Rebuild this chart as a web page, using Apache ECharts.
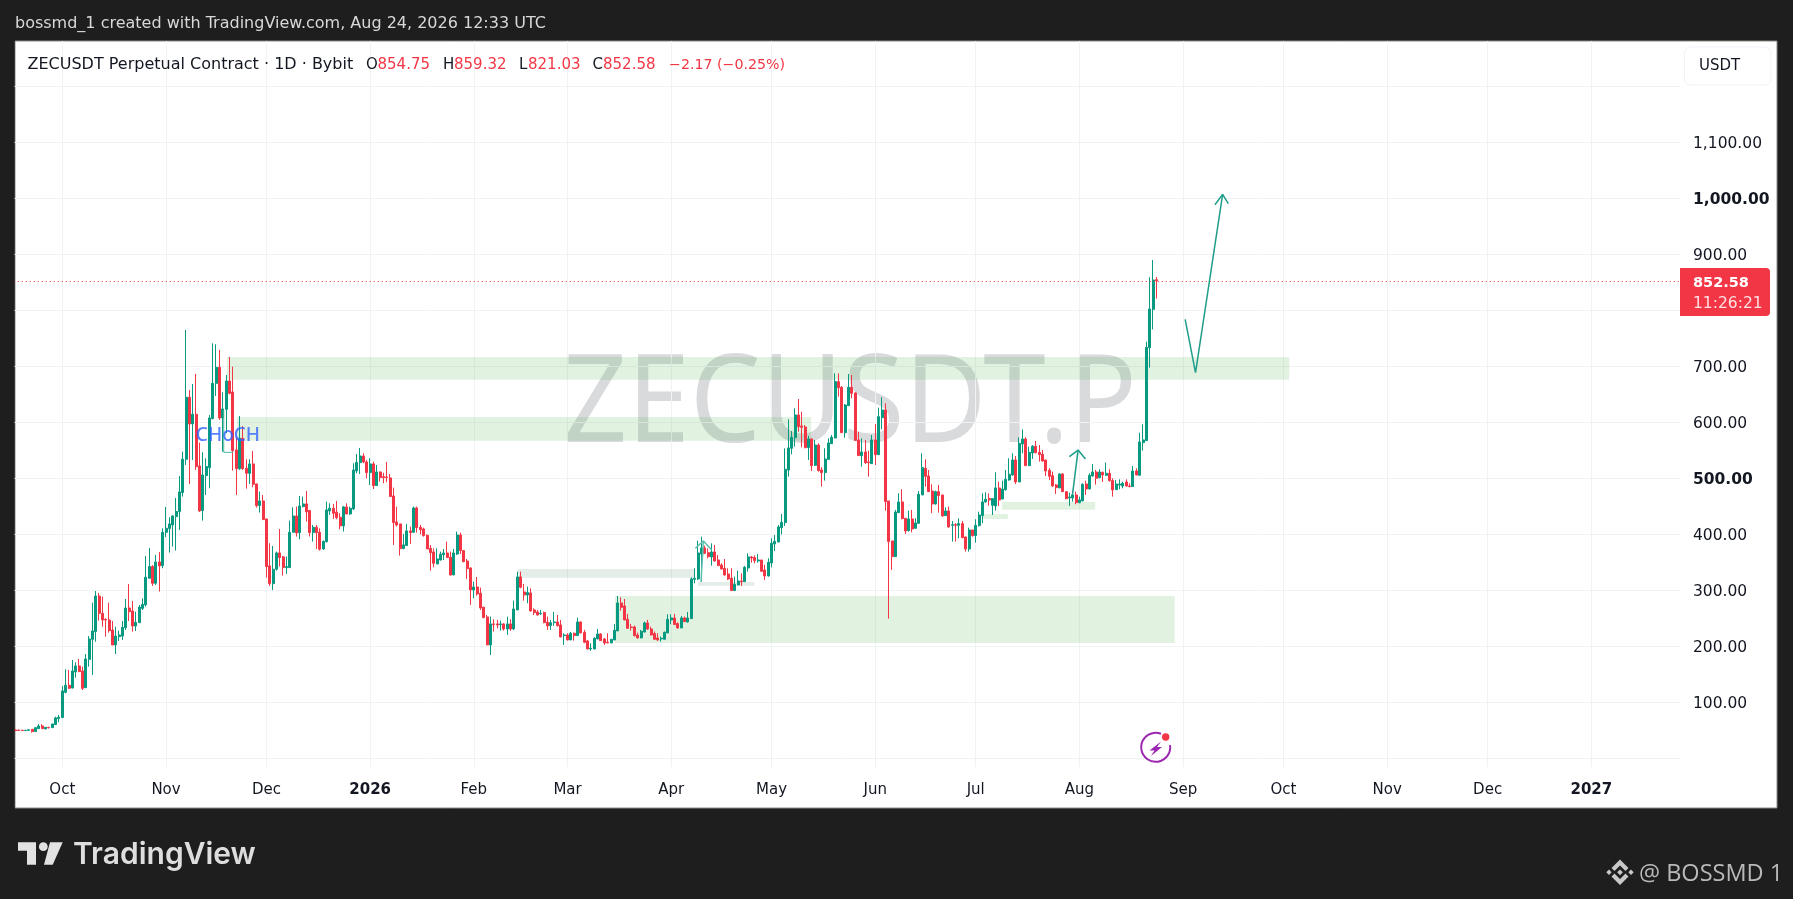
<!DOCTYPE html>
<html><head><meta charset="utf-8">
<style>html,body{margin:0;padding:0;background:#1e1e1e}#c{width:1793px;height:899px}</style>
<script src="https://cdn.jsdelivr.net/npm/echarts@6/dist/echarts.min.js"></script>
</head><body><div id="c"></div>
<script>
const opens=[50.7,50.5,50,49.5,50,51.8,47.7,53,57.8,52.4,55.4,54.8,60.2,70.9,72.7,117.9,130.4,125.6,154.2,164.9,156,126.2,176.8,212.5,226.2,289.8,258.9,248.2,247,229.2,202.4,217.2,218.4,233.3,268.4,263.1,236.3,242.2,267.8,274,321.6,342.4,312.6,350.7,344.2,403.7,410.2,416.8,431.6,440.6,474.5,534,644.7,597.1,614.3,522.1,442.4,504.8,519.1,606.6,669.6,698.2,607.8,623.2,673.8,654.2,550.6,517.3,571.5,517.9,509,525.7,490,451.3,459.6,427.5,343.6,312,337.6,366.8,359.7,340.6,340.6,403.7,432.8,403.1,449.5,454.3,442.4,403.1,412.6,403.7,373.9,387,441.8,446.5,439.4,430.5,415,448.9,436.4,445.3,513.2,528,539.9,529.2,510.2,525.7,487,511.4,503,502.5,500.7,468.5,422.1,418.6,374.5,379.9,406.1,403.7,447.1,412.5,409.5,398.2,375,368.5,347.1,354.2,363.7,366.7,359,327.4,364.9,398.8,370.9,352.4,339.9,300.7,306,294.7,269.7,252.5,202.5,240,240,238.8,240,231,240,231,265,323.9,297.1,291.7,295.3,265,261.4,257.8,260.2,242.9,237,242.3,243.5,238.2,219.1,220.3,211.4,223.3,219.1,243.5,225.1,209.6,195.3,195.3,213.2,222.1,213.2,207.2,206,211.4,227.5,277.4,272.1,248.3,234.6,234.6,220.3,215,225.7,241.8,231,222.7,215,213.2,212.6,223.9,247.1,250.7,240.6,232.8,250.7,243.5,249.5,319.7,320.3,364.9,375.6,367.3,359.6,368.5,354.2,345.3,339.3,329.2,321.5,299.5,309.6,316.7,315.5,339.9,359.6,358.4,352.4,354.2,336.4,325.6,348.8,382.8,386.3,411.9,420.9,514.9,553.6,572.6,613.1,593.5,591.7,554.8,570.2,523.2,559.5,514.9,510.2,533.9,561.9,572,672.6,662.5,581.5,629.7,662.5,652.4,568.5,540.5,547,529.2,526.2,568.5,542.3,608.3,622,459.6,388.2,360.2,438.7,457.8,428.6,406.6,427.4,410.8,419.7,470.3,517.9,504.2,477.4,454.2,476.2,470.3,433.4,441.7,416.1,417.3,416.1,419.1,395.3,373.9,407.8,397.7,415.5,433.4,457.8,463.8,451.8,450.6,482.8,463.2,479.8,497,506,532.8,493.5,561.3,570.2,522.6,545.2,557.2,546.4,542.9,532.8,514.3,504.8,488.1,482.8,507.8,476.2,464.9,464.9,470.3,456.6,459.6,489.9,481,504.2,511.3,501.2,510.7,505.4,509,495.9,479.8,488.1,486.3,493.5,486.3,485.2,513.1,505.4,563.7,567.3,733.3,801.7,854.75];
const closes=[49.5,49.8,49.5,50,51,47.7,54.8,57.8,53,55.4,54.8,61.4,72.1,73.3,120.3,130.4,125,156,164.9,154.8,125,177.4,213.1,227.4,289.8,258.9,247,247,228,202.4,218.4,220.2,233.9,268.4,261.9,236.3,242.8,270.2,275,323.4,342.4,312.6,350.7,343.6,403.7,410.8,418.6,432.8,440.6,475.7,534,644.7,597.1,614.3,520.9,441.8,506,520.9,607.8,669.6,698.2,607.8,623.8,673.8,651.8,549.4,517.3,571.5,517.3,509,525.7,489.4,451.3,459.6,426.3,342.4,312,337.6,366.8,358.5,340.6,342.4,403.7,432.8,402.5,450.7,454.3,440,403.1,412.6,403.1,373.3,387.6,443.6,446.5,437.6,429.9,415,448.9,436.4,446.5,514.9,528.6,539.9,529.2,510.2,525.7,487,511.4,501.3,501.3,501.3,467.4,421,416.8,374.5,381.1,406.1,403.1,447.1,412,408.3,397.6,373.8,367.3,348.3,356,364.3,366.7,358.4,327.4,366.7,398.8,370.9,351.2,338.7,300.7,306,293.5,268.5,251.3,202.5,240,238.8,238.2,240,231,240,231,266.7,323.9,305.4,291.7,295.9,263.2,260.2,256,259,242.3,236.4,242.3,243.5,237,216.8,220.3,211.4,223.3,219.1,243.5,223.9,207.2,195.3,196.5,214.4,222.1,210.2,206,206,212.6,228.7,277.4,269.7,247.1,232.2,233.4,219.1,215,226.9,241.8,231,220.3,212.6,211.4,214.4,225.1,248.3,250.7,238.8,232.8,250.7,244.1,250.7,320.3,321.5,366.7,375.6,366.1,360.2,368.5,352.4,344.1,338.1,327.4,320.3,299.5,310.8,316.7,315.5,341.1,359.6,357.8,353,354.2,334,325.6,350,384,387.5,413.1,421.4,516.1,554.2,573.2,613.1,592.3,591.1,554.8,570.2,522.6,559.5,513.7,510.2,534.5,563.1,573.2,672.6,661.9,581.5,630.9,662.5,651.8,567.9,540.5,547,528,528,568.5,542.3,610.1,622,458.4,387,360.2,439.9,457.8,428,406,427.4,409.6,420.3,471.5,519.1,503.6,476.2,454.2,476.2,469.1,432.8,441.7,413.2,417.3,416.1,419.1,394.1,373.9,407.8,397.7,416.1,434.6,457.8,462.6,461.4,463.8,482.8,461.4,481,498.2,507.2,532.8,493.5,562.5,570.2,522.6,546.4,557.2,545.8,542.3,531,513.1,503.6,486.3,483.4,507.8,476.2,463.7,466.7,470.3,456.6,461.4,489.3,481,505.4,511.3,500,511.3,506,509,495.9,479.2,489.9,489.9,491.1,486.3,485.2,513.1,506,564.9,568.5,733.9,802.3,854.1,852.58];
const lows=[49,49,49,49,49.5,46,47.7,53,53,52,53,54.8,60,64.3,72,116,124,125,144,154,122,126,163.7,148.8,208.3,245.8,235,217.2,224.4,202.4,186.3,209.5,211.3,229.2,245.2,226.2,227.4,241.6,264.8,271,321,307.9,309.7,297.8,339.4,394.8,367.4,378.1,371,407.9,467.4,523.9,490,532.8,515,440,424.5,470.3,482.2,605.4,647,604.2,547.7,580.4,650,513.8,470.3,515,515,481.6,490,484,447.7,438.8,425.7,322.8,307.9,300.7,335.3,342.4,326.3,329.3,340.6,403.1,396,391.2,448.3,422.7,396,387,373.9,371,372.2,385.2,434.6,427.5,426.9,409,404.9,435.8,434.6,443.6,509,507.8,526.9,500.1,488.2,481,486.4,494.1,491.2,493,467.4,381.1,413.8,362,373.3,379.3,382.9,403.1,403.1,400,395.9,373.8,335.2,341.1,347,353,354.2,358.4,326.2,327.4,363.1,364.9,350,320.3,273.9,285.8,290.5,265,250.1,202.5,184.6,226.3,232.2,228,228,220.3,227.5,229.3,265,303.6,281.6,276.9,262,256,254.8,256.6,241.2,229.3,229.3,236.4,235.2,216.2,202.5,210.8,211.4,210.2,218.5,223.3,205.5,194.7,191.8,194.7,212.6,209.6,202.5,206,206,210.8,227.5,263.8,246.5,231,228,217.4,213.8,214.4,224.5,229.3,219.1,211.4,209.6,208.4,212.6,223.9,239.4,238.2,231.6,232.8,243.5,242.3,248.9,312.6,318.5,315.5,364.9,357.2,344,351.2,343.5,337.5,326.2,318.5,299.5,299.5,309,307.8,315.5,333.4,349.4,348.3,349.4,333.4,318.5,324.5,341.1,370.3,385.7,400,414.9,503,542.9,556.6,583.3,555.4,553.6,532.8,513.1,522,511.9,485.2,495.9,532.8,561.3,571.4,645.8,581.5,572.6,629.7,642.8,566.7,539.9,520.9,525.6,503,525.6,523.8,541.7,587.5,442.3,249.5,336.4,360.2,438.7,426.8,400.7,404.8,403.6,409.6,418.5,470.3,485.2,476.2,437.6,453,438.7,431.6,432.8,412,387,387,392.9,392.9,369.1,369.1,395.9,385.2,413.8,419.7,456.6,451.2,434.6,442.3,450.6,462.6,478,495.9,504.8,489.9,493.5,544.7,522,522,534.5,544.7,529.8,529.8,504.2,497.1,485.2,472.1,482.8,475.6,462.5,450.6,458.4,453.6,455.4,459.6,470.3,480.4,503,488.7,500,493.5,504.2,494.1,467.3,479.2,480.4,482.2,485.2,484,485.2,505.4,505.4,549.4,567.3,697.6,766,821.03];
const highs=[51,51,51,51,52,52,55,61,61,55.4,55.5,61.5,74.4,77.4,129.2,158.9,157.8,175.6,171.4,177.4,163.7,186.3,218.4,278,298.8,295.2,288.6,250,278,245.2,235.1,228,245.2,284.5,311.3,280.9,261.9,273.8,285.7,361.4,375.7,345,363.2,368.6,410.8,448.9,430.5,434,465,504.2,547.7,764.9,657.8,668.5,686.3,563.7,546.5,535.8,613.1,741,739.3,729.2,653.6,684.5,716.7,699.4,574.4,611.3,593.5,534,534,548.9,490.5,476.3,470.3,427.5,384,379.3,369.2,409.6,361.4,360.3,424.5,448.3,449.5,468.5,467.3,477.5,443.6,416.8,416.8,410.8,388.8,458.4,455.4,454.3,459.6,437.6,450.7,455.4,449.5,526.9,543.5,554.2,544.7,532.8,535.8,529.8,523.9,512,510,529.2,507.8,483.4,449.5,418.6,400.7,418.6,413.8,449.5,449.5,416.7,411.9,400,381,375,375,369.1,373.8,386.9,369.1,373.8,404.8,403,372,356,341.1,315.5,323.9,304.8,270.9,256,253,248.3,247.1,245.9,241.2,253,248.3,281.6,333.4,333.4,311.4,306.6,303.6,267.9,264.9,264.9,262,253,247.1,261.4,256,247.1,223.3,223.3,225.7,224.5,251.3,244.1,229.3,211.4,205.5,216.2,231,223.3,214.4,223.3,212.6,240,289.9,287.6,284.6,257.8,240,237,224.5,229.3,244.1,247.1,235.2,226.3,223.3,217.4,226.3,257.2,257.2,257.8,242.9,254.2,253,261.4,323.3,339.3,388.7,395.9,379.8,375,383.9,381,363.1,348.3,356,339.3,339.3,324.5,335.2,330.4,343.5,366.1,361.3,362.5,364.9,354.2,345.3,357.2,392.9,398.8,416.7,436.3,553.6,605.3,584.5,625,641.6,619,595.2,575.6,571.4,568.5,562.5,519.7,553.6,571.4,577.4,687.5,687.5,664.8,632.7,686.3,684.5,653.5,583.3,571.4,568.5,549.4,577.4,597,626.2,644.6,633.9,459.6,388.2,443.5,473.3,480.4,428.6,442.3,443.5,428.6,477.4,544.7,533.9,514.9,489.3,478,488.1,470.3,448.3,449.5,423.9,419.7,428.6,423.9,395.9,412,407.8,426.8,440.5,473.3,475,473.3,463.8,510.7,494.1,495.9,514.9,535.7,544.7,539.9,573.2,587.5,573.2,556.5,559.5,566.7,559.5,550.6,532.8,517.9,511.9,489.9,509,509,476.2,474.4,478,476.2,467.3,491.1,495.9,509,525.6,514.9,516.1,511.9,528,516.1,500,497.1,498.2,494.1,498.2,491.1,522,517.9,581.5,596.4,744,858.9,889.8,859.32];

const priceGrid=[0,100,200,300,400,500,600,700,800,900,1000,1100,1200];
const priceLabels=[100,200,300,400,500,600,700,800,900,1000,1100];
const boldPrices=[500,1000];
const monthIndex=[14,45,75,106,137,165,196,226,257,287,318,349,379,410,440,471];
const monthLabels=['Oct','Nov','Dec','2026','Feb','Mar','Apr','May','Jun','Jul','Aug','Sep','Oct','Nov','Dec','2027'];
const lastPrice=852.58;

// zones: [left day, right day, low price, high price]
const zoneA=[63.2,380.7,676,716.6];
const zoneB=[66.2,237.8,567,609.5];
const zoneC=[150.1,203,322.5,338];
const zoneD=[204,220.8,308.3,314.8];
const zoneE=[179.2,346.5,205.9,289.8];
const zoneF=[294.9,322.7,444,457.7];
const zoneG=[288.9,296.6,427.3,436];

const bigArrowPath=[[349.6,784],[352.7,688.6],[360.8,1007]];
const bigArrowHead=[[358.5,988.6],[360.8,1007],[362.5,990.5]];
const midArrowPath=[[315.9,470.2],[317.6,550.5]];
const midArrowHead=[[315,538.6],[317.6,550.5],[319.8,534.5]];
const earlyArrowPath=[[204.9,315.4],[205.6,388]];
const earlyArrowHead=[[203.2,375],[205.6,388],[208.1,372]];
const chochBracket=[[62.25,622],[62.25,546.4],[65,546.4]];
const chochPoint=[[63.5,575.5]];

const UP='#089981',DOWN='#f23645',FONT='"DejaVu Sans",sans-serif';
const candles=opens.map((o,i)=>[o,closes[i],lows[i],highs[i]]);
const categories=Array.from({length:498},(_,i)=>String(i));
const zone=(z)=>[{xAxis:z[0],yAxis:z[3]},{xAxis:z[1],yAxis:z[2]}];
const lineS=(d,w,c)=>({type:'line',xAxisIndex:1,yAxisIndex:0,data:d,symbol:'none',silent:true,z:5,
  lineStyle:{color:c||'#1f9d89',width:w||1.5},animation:false});
const txt=(text,x,y,fill,font,extra)=>({type:'text',z:50,silent:true,style:Object.assign({text,x,y,fill,font,textVerticalAlign:'middle',verticalAlign:'middle'},extra||{})});
const poly=(pts,fill)=>({type:'polygon',z:50,silent:true,shape:{points:pts},style:{fill}});
const hdr='16px '+FONT;
const num='15px '+FONT;
const C1='#131722';

const graphics=[
 {type:'rect',z:-100,silent:true,shape:{x:15,y:41,width:1762,height:767},style:{fill:'#fff',stroke:'#8b8b8b',lineWidth:1}},
 {type:'text',z:-50,silent:true,x:850,y:407,scaleX:0.921,style:{text:'ZECUSDT.P',x:0,y:0,fill:'#d9dadc',font:'122px "Noto Sans",sans-serif',textAlign:'center',textVerticalAlign:'middle',verticalAlign:'middle',align:'center'}},
 {type:'rect',z:40,silent:true,shape:{x:0,y:41,width:14.5,height:767},style:{fill:'#1e1e1e'}},
 txt('bossmd_1 created with TradingView.com, Aug 24, 2026 12:33 UTC',15,24,'#d8d8d8',hdr),
 txt('ZECUSDT Perpetual Contract · 1D · Bybit',27.5,65,C1,hdr),
 txt('O',366,65,C1,num),txt('854.75',377.5,65,DOWN,num),
 txt('H',443,65,C1,num),txt('859.32',454,65,DOWN,num),
 txt('L',519,65,C1,num),txt('821.03',528,65,DOWN,num),
 txt('C',592.5,65,C1,num),txt('852.58',603,65,DOWN,num),
 txt('−2.17 (−0.25%)',669,65,DOWN,'14.2px '+FONT),
 {type:'rect',z:50,silent:true,shape:{x:1684.5,y:47,width:86.5,height:38,r:6},style:{fill:'#fff',stroke:'#f0f3fa',lineWidth:1}},
 txt('USDT',1699,66,C1,num),
 {type:'rect',z:50,silent:true,shape:{x:1680,y:268,width:90,height:48,r:[0,4,4,0]},style:{fill:DOWN}},
 txt('852.58',1693,283,'#fff','bold 14.5px '+FONT),
 txt('11:26:21',1693,304,'#ffdfe2','15.5px '+FONT),
 {type:'arc',z:50,silent:true,shape:{cx:1155.7,cy:747.3,r:14.5,startAngle:-0.15,endAngle:-1.2,clockwise:true},style:{fill:'none',stroke:'#9c27b0',lineWidth:2}},
 poly([[1161,741.5],[1149.5,750.5],[1154.5,750.5],[1151,756],[1162,747],[1157,747]],'#9c27b0'),
 {type:'circle',z:51,silent:true,shape:{cx:1165.7,cy:737,r:3.7},style:{fill:DOWN}},
 poly([[18,842.3],[36,842.3],[36,864.7],[27,864.7],[27,850.7],[18,850.7]],'#e2e2e2'),
 {type:'circle',z:50,silent:true,shape:{cx:43.3,cy:846.7,r:4.4},style:{fill:'#e2e2e2'}},
 poly([[50,842.3],[62.7,842.3],[52.7,864.7],[44,864.7]],'#e2e2e2'),
 txt('TradingView',73,855,'#dedede','600 30px Inter,sans-serif'),
 poly([[1620,859.5],[1628.5,868],[1625.5,871],[1620,865.6],[1614.5,871],[1611.5,868]],'#c8c8c8'),
 poly([[1620,885.1],[1628.5,876.6],[1625.5,873.6],[1620,879],[1614.5,873.6],[1611.5,876.6]],'#c8c8c8'),
 poly([[1620,869.4],[1622.9,872.3],[1620,875.2],[1617.1,872.3]],'#c8c8c8'),
 poly([[1609,869.6],[1611.7,872.3],[1609,875],[1606.3,872.3]],'#c8c8c8'),
 poly([[1631,869.6],[1633.7,872.3],[1631,875],[1628.3,872.3]],'#c8c8c8'),
 txt('@ BOSSMD 1',1639,874,'#b9b9b9','23.5px "Open Sans",sans-serif')
];

const chart=echarts.init(document.getElementById('c'),null,{renderer:'canvas'});
chart.setOption({
 animation:false,
 backgroundColor:'#1e1e1e',
 graphic:{elements:graphics},
 grid:{left:13.8,top:41,width:1666.2,height:726,containLabel:false},
 xAxis:[
  {type:'category',data:categories,show:false,boundaryGap:true,axisLine:{onZero:false}},
  {type:'value',min:-0.5,max:497.5,position:'bottom',
   axisLine:{show:false,onZero:false},
   axisTick:{show:false,customValues:monthIndex},
   splitLine:{show:true,lineStyle:{color:'#f1f2f4',width:1}},
   axisLabel:{customValues:monthIndex,margin:16,color:C1,fontFamily:FONT,fontSize:15,
     formatter:v=>{const s=monthLabels[monthIndex.indexOf(v)];return /^\d/.test(s)?'{b|'+s+'}':s;},
     rich:{b:{fontFamily:FONT,fontSize:15,fontWeight:'bold',color:C1}}}}
 ],
 yAxis:{type:'value',min:-15.5,max:1280.9,position:'right',
   axisLine:{show:false,onZero:false},
   axisTick:{show:false,customValues:priceGrid},
   splitLine:{show:true,lineStyle:{color:'#f1f2f4',width:1}},
   axisLabel:{customValues:priceLabels,margin:13,padding:[3,0,0,0],color:C1,fontFamily:FONT,fontSize:15.5,
     formatter:v=>{const s=v.toLocaleString('en-US',{minimumFractionDigits:2,maximumFractionDigits:2});return boldPrices.includes(v)?'{b|'+s+'}':s;},
     rich:{b:{fontFamily:FONT,fontSize:15.5,fontWeight:600,color:C1}}}},
 series:[
  {type:'line',xAxisIndex:1,yAxisIndex:0,data:[[0,-100]],symbol:'none',silent:true,z:1,
   markArea:{silent:true,z:1,itemStyle:{color:'rgba(76,175,80,0.17)'},label:{show:false},
    data:[zone(zoneA),zone(zoneB),zone(zoneE),zone(zoneF),zone(zoneG),
      [{xAxis:zoneC[0],yAxis:zoneC[3],itemStyle:{color:'rgba(67,130,85,0.14)'}},{xAxis:zoneC[1],yAxis:zoneC[2]}],
      [{xAxis:zoneD[0],yAxis:zoneD[3],itemStyle:{color:'rgba(67,130,85,0.14)'}},{xAxis:zoneD[1],yAxis:zoneD[2]}]]}},
  {type:'candlestick',xAxisIndex:0,yAxisIndex:0,data:candles,barWidth:2.5,z:3,silent:true,
   itemStyle:{color:UP,color0:DOWN,borderColor:UP,borderColor0:DOWN,borderWidth:1},
   markLine:{silent:true,symbol:['none','none'],label:{show:false},animation:false,
     lineStyle:{type:[1,3],color:DOWN,width:1},data:[{yAxis:lastPrice}]}},
  lineS(bigArrowPath,1.5),lineS(bigArrowHead,1.5),
  lineS(midArrowPath,1.5),lineS(midArrowHead,1.5),
  lineS(earlyArrowPath,1.5,'#5cbfae'),lineS(earlyArrowHead,1.5,'#5cbfae'),
  lineS(chochBracket,1,'#4db6a0'),
  {type:'scatter',xAxisIndex:1,yAxisIndex:0,data:chochPoint,symbolSize:2,itemStyle:{color:'rgba(0,0,0,0)'},silent:true,z:20,
   label:{show:true,position:'inside',formatter:'CHoCH',color:'#2f62ff',fontSize:19,fontWeight:500,fontFamily:'"Noto Sans",sans-serif'}}
 ]
});
</script></body></html>
